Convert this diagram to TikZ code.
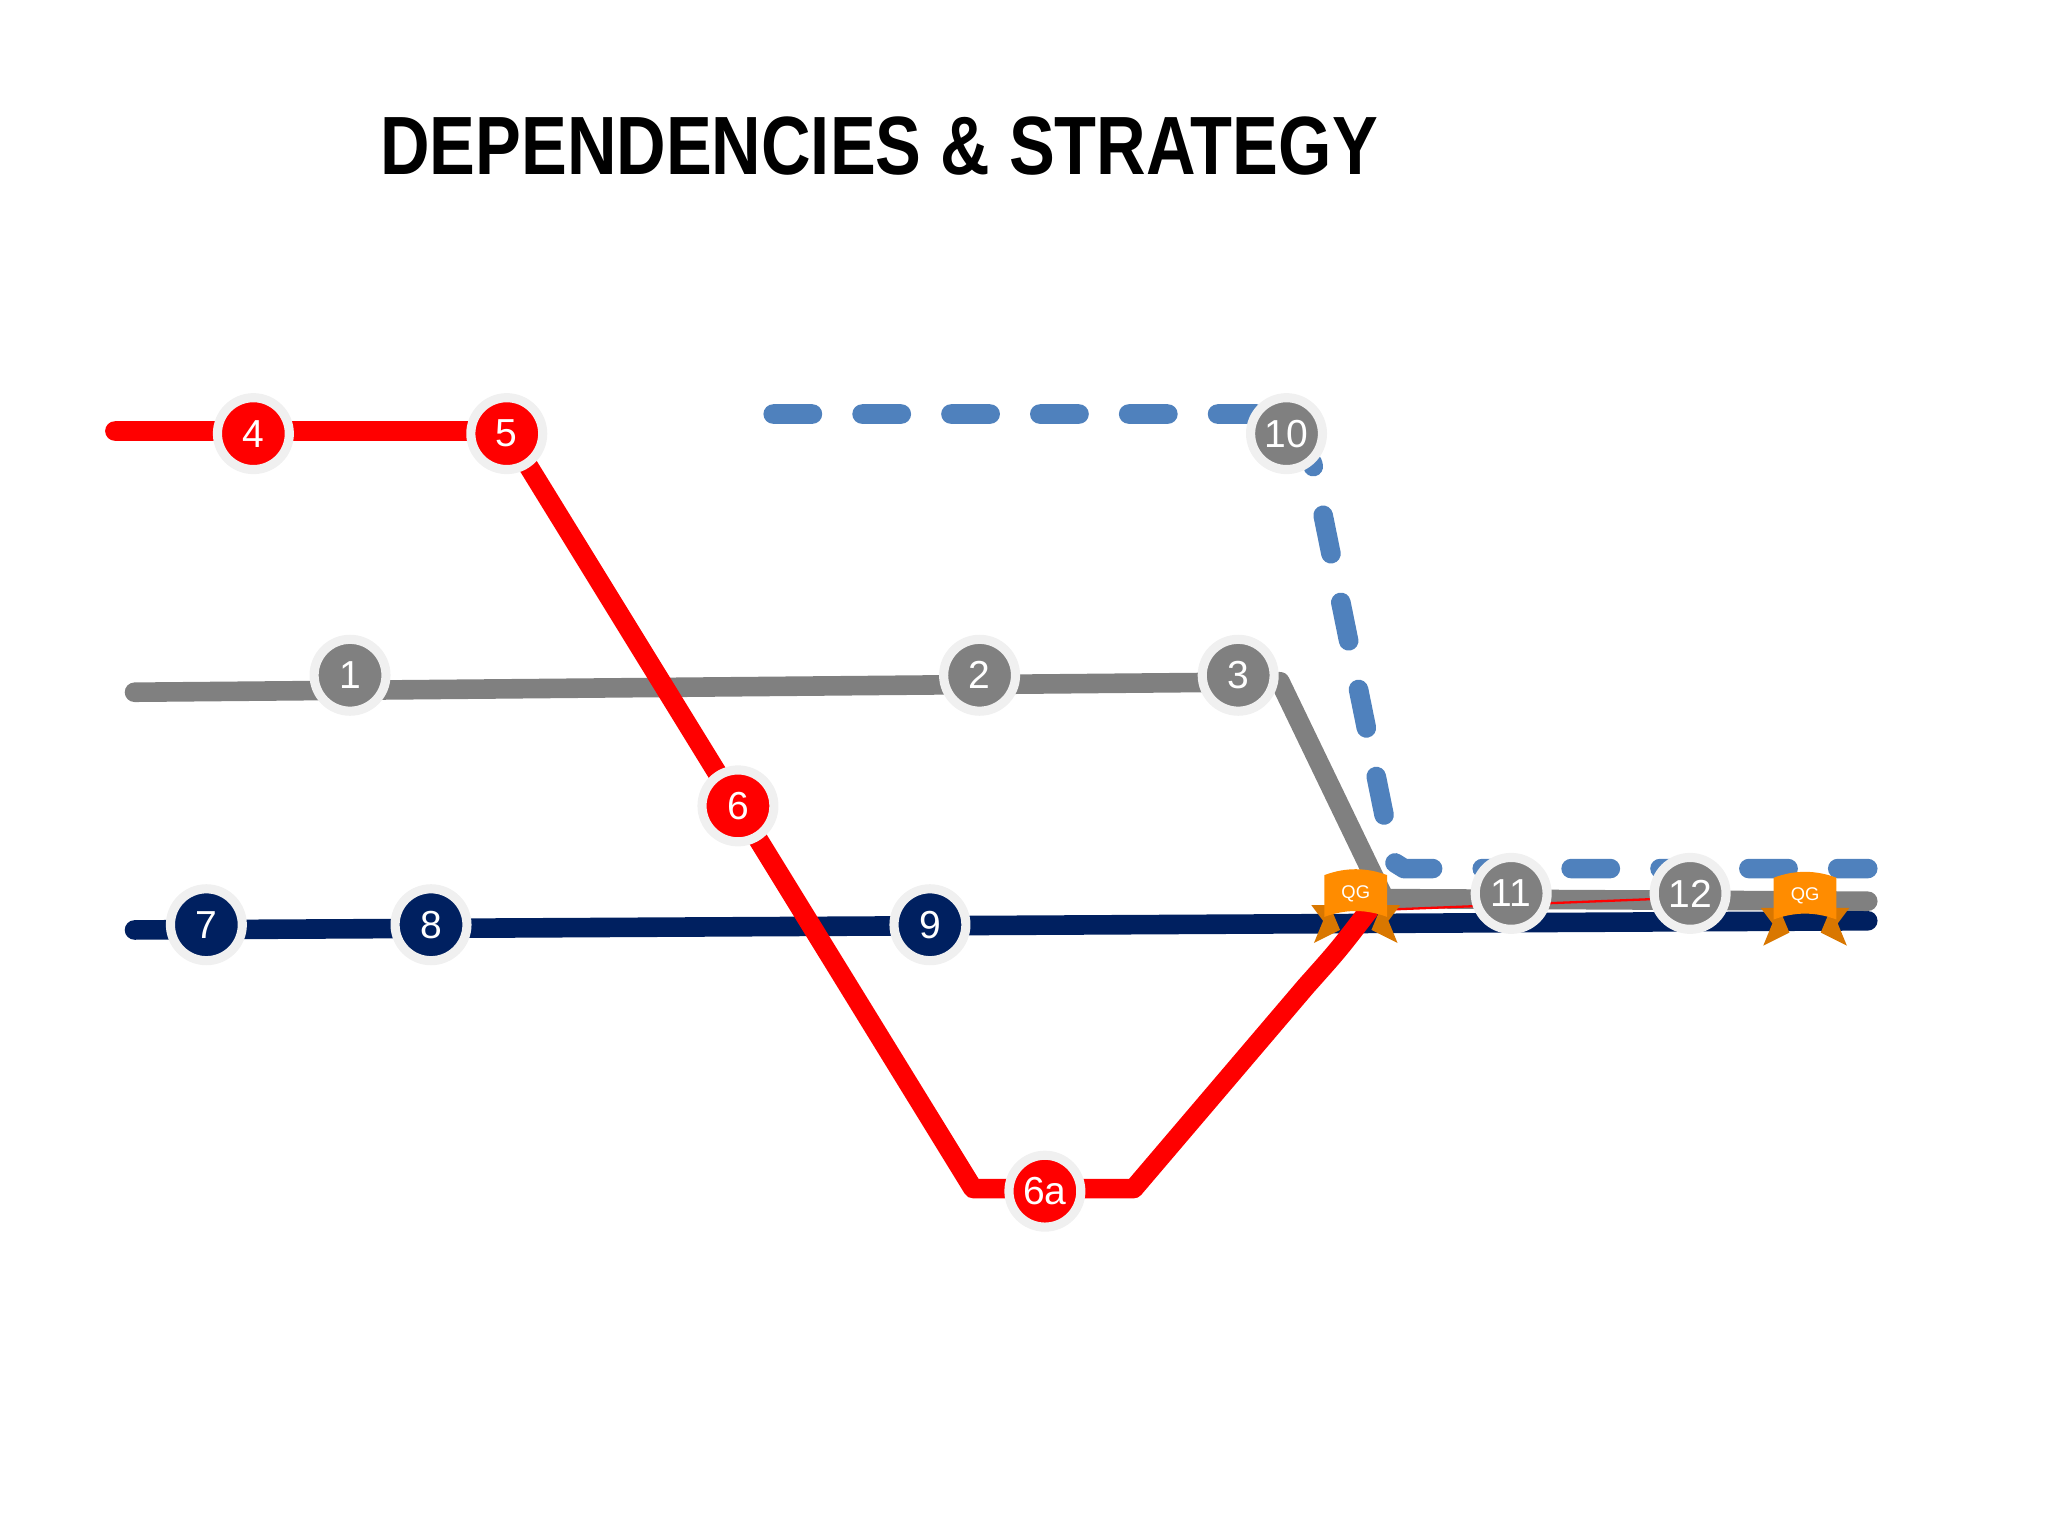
\documentclass[tikz,border=0pt]{standalone}
\usepackage{fontspec}
\setmainfont{Liberation Sans}
\definecolor{myred}{RGB}{255,0,0}
\definecolor{mygray}{RGB}{128,128,128}
\definecolor{mynavy}{RGB}{0,32,96}
\definecolor{myblue}{RGB}{79,129,189}
\definecolor{myorange}{RGB}{255,140,0}
\begin{document}
\begin{tikzpicture}[x=0.01cm,y=-0.01cm,
 ln/.style={line width=0.15cm,line cap=round,line join=round},
 stn/.style={circle,draw=white!94!black,line width=0.07cm,minimum size=0.55cm,inner sep=0pt,text=white,font=\fontsize{8.5}{8.5}\selectfont},
 qg/.style={font=\fontsize{4}{4}\selectfont,text=white}]
\useasboundingbox (0,0) rectangle (1568,1176);
\node[font=\fontsize{18}{18}\bfseries\selectfont,inner sep=0pt] (title) at (673,112) {\scalebox{0.83}[1]{DEPENDENCIES \& STRATEGY}};
\coordinate (rs) at (88,330); \coordinate (r1) at (745,910); \coordinate (r2) at (868,910); \coordinate (j) at (1048,697);
\coordinate (gs) at (103,530); \coordinate (g1) at (980,522); \coordinate (g2) at (1060,688); \coordinate (ge) at (1430,690);
\coordinate (ns) at (103,712); \coordinate (ne) at (1430,705);
\coordinate (bs) at (592,317); \coordinate (b1) at (985,317); \coordinate (b2) at (1005,355); \coordinate (b3) at (1067,660); \coordinate (be) at (1430,665);
\draw[ln,myblue,dash pattern=on 0.3cm off 0.38cm] (bs) -- (b1) -- (b2) -- (b3) -- (1075,665) -- (be);
\draw[ln,mynavy] (ns) -- (ne);
\draw[ln,mygray] (gs) -- (g1) -- (g2) -- (ge);
\draw[red,line width=0.5pt] (j) -- (1300,687);
\draw[ln,myred] (rs) -- (388,330) -- (r1) -- (r2) -- (1000,755) .. controls (1025,727) .. (j);
\node[stn,fill=myred] (n4) at (194,332) {4};
\node[stn,fill=myred] (n5) at (388,332) {5};
\node[stn,fill=myred] (n6) at (565,617) {6};
\node[stn,fill=myred] (n6a) at (800,912) {6a};
\node[stn,fill=mygray] (n1) at (268,517) {1};
\node[stn,fill=mygray] (n2) at (750,517) {2};
\node[stn,fill=mygray] (n3) at (948,517) {3};
\node[stn,fill=mygray] (n10) at (985,332) {10};
\node[stn,fill=mygray] (n11) at (1157,684) {11};
\node[stn,fill=mygray] (n12) at (1294,684) {12};
\node[stn,fill=mynavy] (n7) at (158,708) {7};
\node[stn,fill=mynavy] (n8) at (330,708) {8};
\node[stn,fill=mynavy] (n9) at (712,708) {9};
\foreach \n/\x/\y in {qa/1038/688, qb/1382/690}{
 \begin{scope}[shift={(\x,\y)}]
  \fill[myorange!85!black] (-20,5) -- (-34,5) -- (-25,17) -- (-32,34) -- (-12,24) -- cycle;
  \fill[myorange!85!black] (20,5) -- (34,5) -- (25,17) -- (32,34) -- (12,24) -- cycle;
  \fill[myorange] (-24,-18) .. controls (-8,-24) and (8,-24) .. (24,-18) -- (24,14) .. controls (8,8) and (-8,8) .. (-24,14) -- cycle;
  \node[qg] (\n) at (0,-4) {QG};
 \end{scope}}
\end{tikzpicture}
\end{document}
